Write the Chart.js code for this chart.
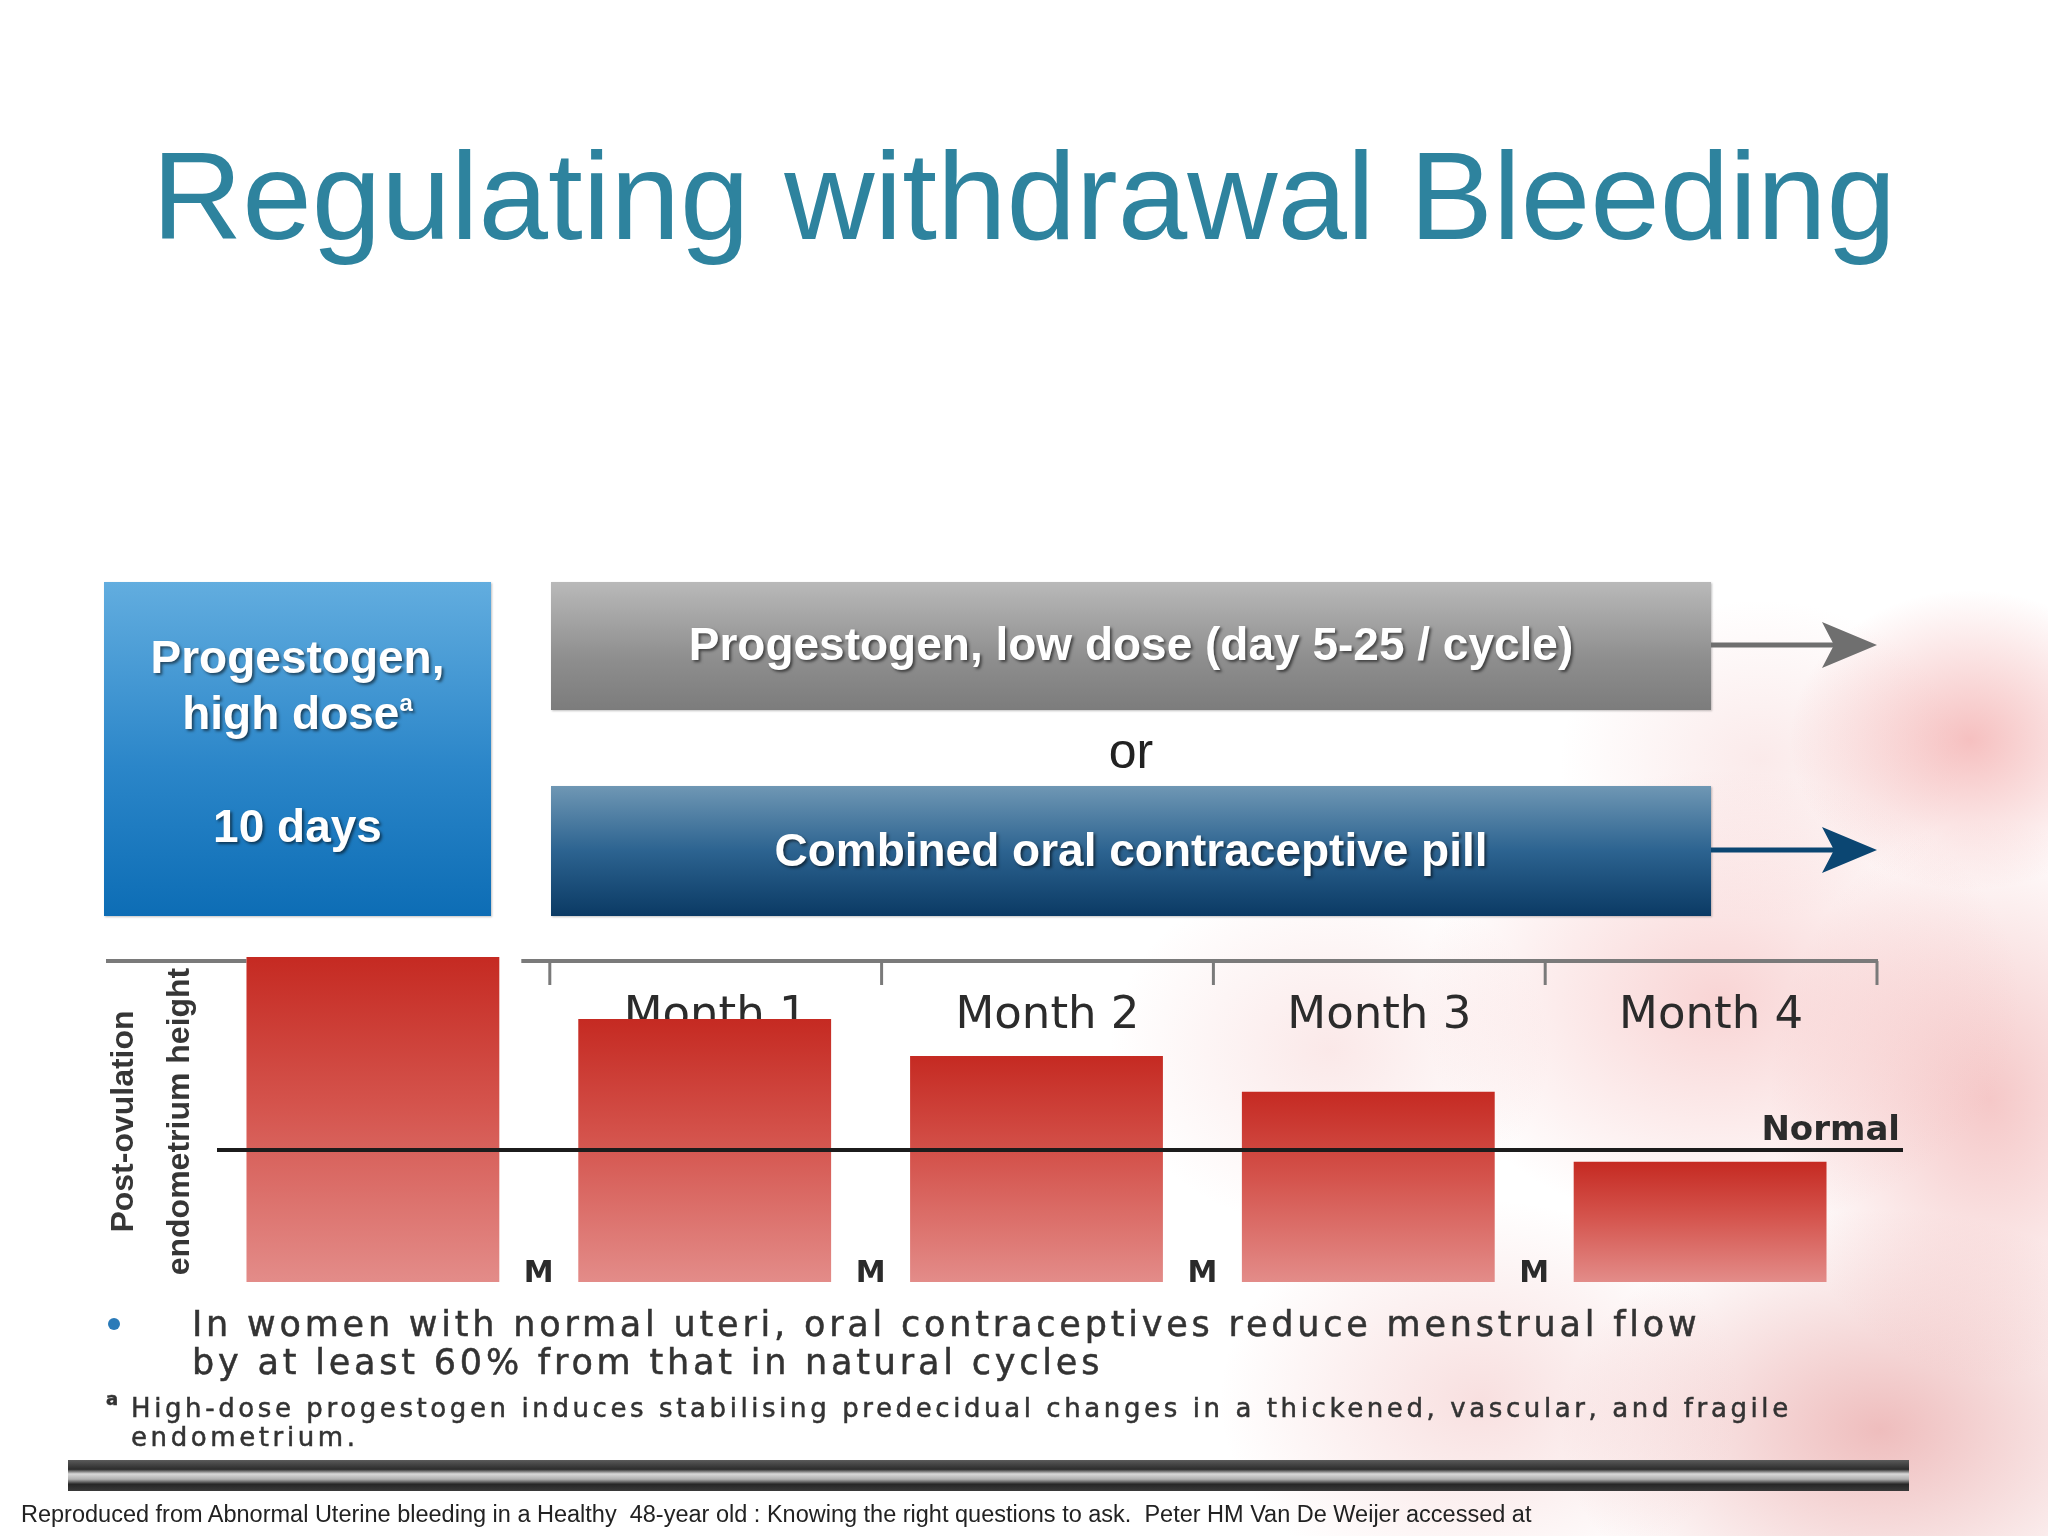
<!DOCTYPE html>
<html>
<head>
<meta charset="utf-8">
<script src="https://cdn.jsdelivr.net/npm/chart.js@4"></script>
<style>
  html, body { margin: 0; padding: 0; background: #fff; }
  #slide { position: relative; width: 2048px; height: 1536px; overflow: hidden; background: #fff; }
  #wash {
    position: absolute; left: 0; top: 0; width: 2048px; height: 1536px;
    background:
      radial-gradient(ellipse 180px 150px at 1970px 740px, rgba(238,140,140,0.55), rgba(238,140,140,0) 100%),
      radial-gradient(ellipse 300px 230px at 1720px 1000px, rgba(242,170,170,0.50), rgba(242,170,170,0) 100%),
      radial-gradient(ellipse 220px 280px at 1990px 1100px, rgba(235,145,145,0.50), rgba(235,145,145,0) 100%),
      radial-gradient(ellipse 260px 200px at 1480px 1400px, rgba(235,165,165,0.35), rgba(235,165,165,0) 100%),
      radial-gradient(ellipse 320px 220px at 1880px 1430px, rgba(225,135,135,0.55), rgba(225,135,135,0) 100%),
      radial-gradient(ellipse 220px 180px at 1330px 1050px, rgba(240,180,180,0.30), rgba(240,180,180,0) 100%),
      radial-gradient(ellipse 200px 160px at 1760px 760px, rgba(240,185,185,0.30), rgba(240,185,185,0) 100%);
  }
  canvas { position: absolute; left: 0; top: 0; }
  .t { position: absolute; line-height: 1; white-space: nowrap; margin: 0; }
  .box { position: absolute; }
  .bx { font-family: "Liberation Sans", Arial, sans-serif; font-weight: bold; font-size: 46px; color: #fff;
        text-shadow: 2px 2px 3px rgba(0,0,0,0.55); text-align: center; }
  .body { font-family: "DejaVu Sans", sans-serif; color: #333; -webkit-text-stroke: 0.5px #333; }
</style>
</head>
<body>
<div id="slide">
  <div id="wash"></div>
  <canvas id="chart" width="2048" height="1536"></canvas>

  <div class="t" style="left:0;width:2048px;top:133px;text-align:center;font-family:'Liberation Sans',Arial,sans-serif;font-size:125px;color:#2E839E;">Regulating withdrawal Bleeding</div>

  <!-- treatment boxes -->
  <div class="box" style="left:104px;top:582px;width:387px;height:334px;background:linear-gradient(#62addf,#2b86c9 55%,#0d6db5);box-shadow:1px 1px 2px rgba(0,0,0,0.25);"></div>
  <div class="t bx" style="left:104px;width:387px;top:634px;">Progestogen,</div>
  <div class="t bx" style="left:104px;width:387px;top:690px;">high dose<span style="font-size:24px;position:relative;top:-18px;">a</span></div>
  <div class="t bx" style="left:104px;width:387px;top:803px;">10 days</div>

  <div class="box" style="left:551px;top:582px;width:1160px;height:128px;background:linear-gradient(#b9b9b9,#8e8e8e 60%,#7c7c7c);box-shadow:1px 1px 2px rgba(0,0,0,0.25);"></div>
  <div class="t bx" style="left:551px;width:1160px;top:621px;">Progestogen, low dose (day 5-25 / cycle)</div>

  <div class="t" style="left:551px;width:1160px;top:726px;text-align:center;font-family:'Liberation Sans',Arial,sans-serif;font-size:50px;color:#222;">or</div>

  <div class="box" style="left:551px;top:786px;width:1160px;height:130px;background:linear-gradient(#6f97b4,#2c6390 50%,#0b3a64);box-shadow:1px 1px 2px rgba(0,0,0,0.25);"></div>
  <div class="t bx" style="left:551px;width:1160px;top:827px;">Combined oral contraceptive pill</div>

  <svg style="position:absolute;left:0;top:0;" width="2048" height="1536">
    <line x1="1711" y1="645" x2="1840" y2="645" stroke="#6f6f6f" stroke-width="5"/>
    <polygon points="1822,622 1877,645 1822,668 1834,645" fill="#6f6f6f"/>
    <line x1="1711" y1="850" x2="1840" y2="850" stroke="#0b4672" stroke-width="5"/>
    <polygon points="1822,827 1877,850 1822,873 1834,850" fill="#0b4672"/>
  </svg>

  <!-- notes -->
  <div class="box" style="left:108px;top:1318px;width:12px;height:12px;border-radius:6px;background:#2a7ab8;"></div>
  <div class="t body" style="left:192px;top:1307px;font-size:35px;letter-spacing:3.8px;">In women with normal uteri, oral contraceptives reduce menstrual flow</div>
  <div class="t body" style="left:192px;top:1345px;font-size:35px;letter-spacing:3.8px;">by at least 60% from that in natural cycles</div>
  <div class="t body" style="left:106px;top:1390px;font-size:18px;font-weight:bold;">a</div>
  <div class="t body" style="left:131px;top:1395px;font-size:26px;letter-spacing:3.6px;">High-dose progestogen induces stabilising predecidual changes in a thickened, vascular, and fragile</div>
  <div class="t body" style="left:131px;top:1424px;font-size:26px;letter-spacing:3.6px;">endometrium.</div>

  <div class="box" style="left:68px;top:1460px;width:1841px;height:31px;background:linear-gradient(#5a5a5a,#2c2c2c 30%,#d8d8d8 45%,#b0b0b0 62%,#262626 78%,#3a3a3a);"></div>

  <div class="t" style="left:21px;top:1503px;font-family:'Liberation Sans',Arial,sans-serif;font-size:23.5px;color:#222;">Reproduced from Abnormal Uterine bleeding in a Healthy&nbsp; 48-year old : Knowing the right questions to ask.&nbsp; Peter HM Van De Weijer accessed at</div>
</div>

<script>
// categories: the high-dose phase then four months of treatment
const phases = ['High dose', 'Month 1', 'Month 2', 'Month 3', 'Month 4'];
// post-ovulation endometrium height, relative to normal (= 1)
const heights = [2.46, 1.99, 1.71, 1.44, 0.91];
const normalLevel = 1.0;
const monthLabels = ['Month 1', 'Month 2', 'Month 3', 'Month 4'];
const menstruationMark = 'M';
const yTitle = ['Post-ovulation', 'endometrium height'];

const barGradient = (c) => {
  const chart = c.chart;
  if (!chart.chartArea) return '#d04a44';
  const y = chart.scales.y;
  const top = y.getPixelForValue(c.raw);
  const bottom = y.getPixelForValue(0);
  const g = chart.ctx.createLinearGradient(0, top, 0, bottom);
  g.addColorStop(0, '#c52a22');
  g.addColorStop(0.45, '#d4534c');
  g.addColorStop(1, '#e38c89');
  return g;
};

// axis line, month ticks and labels, normal line
const decorPlugin = {
  id: 'decor',
  beforeDatasetsDraw(chart) {
    const { ctx, chartArea: a, scales: { x } } = chart;
    const meta = chart.getDatasetMeta(0);
    const step = x.getPixelForValue(1) - x.getPixelForValue(0);
    const ticks = [];
    for (let i = 0; i < phases.length; i++) ticks.push(x.getPixelForValue(i) + step / 2 + 11);
    const bar0 = meta.data[0];
    ctx.save();
    ctx.strokeStyle = '#7a7a7a';
    ctx.lineWidth = 4;
    ctx.beginPath();
    ctx.moveTo(a.left - 101, a.top);
    ctx.lineTo(bar0.x - bar0.width / 2, a.top);
    ctx.moveTo(bar0.x + bar0.width / 2 + 22, a.top);
    ctx.lineTo(ticks[ticks.length - 1] + 1, a.top);
    ctx.stroke();
    ctx.lineWidth = 3;
    ticks.forEach(t => {
      ctx.beginPath();
      ctx.moveTo(t, a.top);
      ctx.lineTo(t, a.top + 24);
      ctx.stroke();
    });
    // month labels (bars overlap them)
    ctx.fillStyle = '#2b2b2b';
    ctx.font = '45px "DejaVu Sans", sans-serif';
    ctx.textAlign = 'center';
    ctx.textBaseline = 'alphabetic';
    monthLabels.forEach((m, i) => {
      ctx.fillText(m, (ticks[i] + ticks[i + 1]) / 2, a.top + 67);
    });
    // y title
    ctx.font = 'bold 32px "Liberation Sans", Arial, sans-serif';
    ctx.fillStyle = '#363636';
    ctx.textBaseline = 'middle';
    const cy = (a.top + a.bottom) / 2;
    [[yTitle[0], a.left - 83], [yTitle[1], a.left - 27]].forEach(([s, px]) => {
      ctx.save();
      ctx.translate(px, cy);
      ctx.rotate(-Math.PI / 2);
      ctx.fillText(s, 0, 0);
      ctx.restore();
    });
    ctx.restore();
  },
  afterDatasetsDraw(chart) {
    const { ctx, chartArea: a, scales: { x, y } } = chart;
    const step = x.getPixelForValue(1) - x.getPixelForValue(0);
    ctx.save();
    // normal line
    const ny = y.getPixelForValue(normalLevel);
    ctx.strokeStyle = '#1c1c1c';
    ctx.lineWidth = 4;
    ctx.beginPath();
    ctx.moveTo(a.left + 10, ny);
    ctx.lineTo(a.right + 37, ny);
    ctx.stroke();
    ctx.fillStyle = '#2b2b2b';
    ctx.font = 'bold 34px "DejaVu Sans", sans-serif';
    ctx.textAlign = 'right';
    ctx.textBaseline = 'alphabetic';
    ctx.fillText('Normal', a.right + 34, ny - 10);
    // menstruation marks between bars
    ctx.font = 'bold 30px "DejaVu Sans", sans-serif';
    ctx.textAlign = 'center';
    for (let i = 0; i < phases.length - 1; i++) {
      ctx.fillText(menstruationMark, x.getPixelForValue(i) + step / 2, a.bottom);
    }
    ctx.restore();
  }
};

new Chart(document.getElementById('chart'), {
  type: 'bar',
  data: {
    labels: phases,
    datasets: [{
      data: heights,
      backgroundColor: barGradient,
      borderWidth: 0,
      barPercentage: 0.762,
      categoryPercentage: 1,
      clip: 8
    }]
  },
  options: {
    responsive: false,
    animation: false,
    layout: { padding: { left: 207, right: 182, top: 961, bottom: 254 } },
    plugins: { legend: { display: false }, tooltip: { enabled: false } },
    scales: {
      x: { display: false, grid: { display: false } },
      y: { display: false, min: 0, max: 2.43, grid: { display: false } }
    }
  },
  plugins: [decorPlugin]
});
</script>
</body>
</html>
